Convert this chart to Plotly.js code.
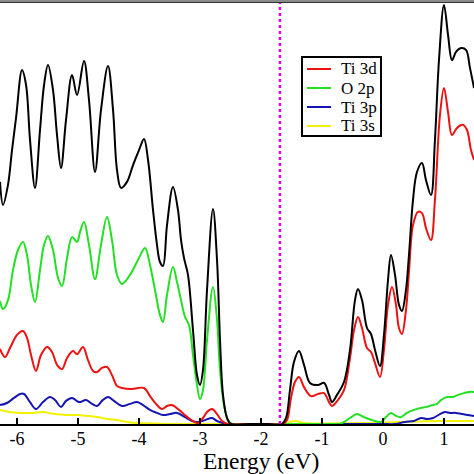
<!DOCTYPE html>
<html>
<head>
<meta charset="utf-8">
<script src="https://cdn.plot.ly/plotly-3.0.1.min.js"></script>
<style>
  html, body { margin: 0; padding: 0; background: #ffffff; }
  #chart { width: 474px; height: 474px; }
</style>
</head>
<body>
<div id="chart"></div>
<script>
// Projected density of states of TiO2 (energies in eV, DOS in states/eV)

// Total DOS
var totalE = [-6.279,-6.230,-6.148,-6.082,-6.016,-5.918,-5.852,-5.787,-5.705,-5.623,-5.557,-5.492,-5.410,-5.344,-5.279,-5.197,-5.098,-5.016,-4.902,-4.820,-4.721,-4.623,-4.508,-4.426,-4.361,-4.295,-4.197,-4.098,-4.0,-3.918,-3.852,-3.770,-3.705,-3.656,-3.607,-3.541,-3.443,-3.361,-3.311,-3.262,-3.197,-3.115,-3.049,-3.0,-2.951,-2.885,-2.787,-2.721,-2.672,-2.623,-2.557,-2.492,-2.2,-1.9,-1.656,-1.590,-1.525,-1.459,-1.377,-1.295,-1.197,-1.066,-0.967,-0.885,-0.836,-0.754,-0.639,-0.541,-0.459,-0.410,-0.344,-0.262,-0.197,-0.131,-0.049,0.016,0.082,0.131,0.197,0.262,0.311,0.377,0.426,0.492,0.557,0.639,0.705,0.787,0.852,0.918,1.0,1.066,1.131,1.197,1.279,1.361,1.426,1.492];
var totalDOS = [8.07,7.30,7.97,9.13,10.2,11.8,11.3,9.47,7.87,9.80,11.3,11.97,11.13,9.63,8.53,10.13,11.63,10.97,12.1,10.8,8.4,10.47,11.93,10.47,8.47,7.87,8.07,8.63,9.13,9.5,8.8,7.13,5.97,5.4,5.27,6.63,7.9,7.13,6.13,5.53,4.97,3.13,1.63,1.3,1.8,4.47,7.17,5.47,2.8,0.97,0.2,0,0,0,0,0.2,1.13,2.07,2.43,1.97,1.37,1.3,1.37,0.97,0.73,0.97,1.4,2.47,4.13,4.5,4.13,3.2,3.0,2.47,1.93,2.97,4.8,5.63,4.97,3.97,3.77,4.47,5.63,7.47,8.4,8.7,8.13,7.63,9.47,12.13,13.97,12.97,12.13,12.4,12.53,12.47,11.87,11.2];

// Ti 3d
var ti3dE = [-6.279,-6.197,-6.115,-6.0,-5.902,-5.836,-5.770,-5.689,-5.607,-5.508,-5.426,-5.344,-5.262,-5.180,-5.082,-5.016,-4.918,-4.836,-4.754,-4.689,-4.607,-4.525,-4.443,-4.361,-4.279,-4.115,-3.918,-3.820,-3.721,-3.623,-3.541,-3.459,-3.344,-3.230,-3.115,-3.033,-2.951,-2.885,-2.803,-2.721,-2.639,-2.541,-2.2,-1.9,-1.639,-1.574,-1.508,-1.443,-1.377,-1.295,-1.180,-1.066,-0.967,-0.885,-0.836,-0.738,-0.639,-0.541,-0.475,-0.410,-0.344,-0.262,-0.197,-0.131,-0.049,0.016,0.082,0.148,0.213,0.262,0.311,0.377,0.426,0.492,0.574,0.639,0.705,0.787,0.852,0.934,1.0,1.066,1.131,1.213,1.311,1.377,1.443,1.492];
var ti3dDOS = [2.5,2.23,2.53,2.97,3.1,2.87,2.3,1.77,2.3,2.57,2.4,1.97,1.83,2.2,2.43,2.33,2.57,2.13,1.77,1.73,1.87,1.9,1.63,1.27,1.2,1.17,1.2,0.93,0.67,0.5,0.6,0.63,0.47,0.27,0.1,0.03,0.2,0.4,0.5,0.33,0.1,0,0,0,0,0.13,0.87,1.4,1.57,1.23,0.93,1.0,1.03,0.73,0.6,0.8,1.13,2.2,3.13,3.57,3.2,2.53,2.4,2.03,1.57,2.47,3.97,4.57,3.97,3.2,3.0,3.8,5.07,6.63,7.07,7.03,6.53,6.13,7.47,10.3,11.2,10.4,9.63,9.87,9.97,9.8,9.13,8.8];

// O 2p
var o2pE = [-6.279,-6.230,-6.148,-6.066,-5.984,-5.902,-5.836,-5.770,-5.705,-5.623,-5.557,-5.492,-5.410,-5.328,-5.262,-5.180,-5.098,-5.016,-4.967,-4.902,-4.820,-4.721,-4.623,-4.525,-4.443,-4.361,-4.279,-4.148,-4.016,-3.902,-3.820,-3.738,-3.656,-3.607,-3.541,-3.443,-3.377,-3.311,-3.246,-3.180,-3.115,-3.049,-3.0,-2.951,-2.885,-2.787,-2.721,-2.672,-2.607,-2.541,-2.475,-2.2,-1.6,-1.0,-0.8,-0.705,-0.639,-0.541,-0.426,-0.311,-0.180,-0.033,0.049,0.131,0.213,0.295,0.393,0.508,0.607,0.721,0.803,0.885,0.951,1.049,1.148,1.230,1.328,1.410,1.492];
var o2pDOS = [4.1,3.83,4.13,5.13,5.8,6.07,5.63,4.63,4.07,5.13,5.97,6.27,5.8,4.87,4.6,5.53,6.23,6.07,6.4,6.73,5.97,4.83,5.97,6.9,6.13,4.97,4.67,4.97,5.47,5.87,5.3,4.47,3.63,3.4,4.3,5.23,4.73,4.13,3.57,3.3,2.3,1.3,0.83,1.13,2.8,4.57,3.47,1.8,0.63,0.13,0,0,0,0,0,0,0.07,0.2,0.33,0.23,0.13,0.07,0.23,0.37,0.27,0.23,0.37,0.47,0.53,0.57,0.63,0.67,0.8,0.9,0.9,0.97,1.03,1.07,1.07];

// Ti 3p
var ti3pE = [-6.279,-6.164,-6.049,-5.951,-5.885,-5.787,-5.689,-5.574,-5.459,-5.377,-5.279,-5.197,-5.098,-4.984,-4.869,-4.770,-4.689,-4.607,-4.508,-4.410,-4.279,-4.148,-4.033,-3.934,-3.820,-3.705,-3.607,-3.492,-3.377,-3.246,-3.131,-3.033,-2.918,-2.803,-2.721,-2.623,-2.557,-2.0,-1.0,-0.5,0.0,0.197,0.361,0.508,0.623,0.721,0.820,0.934,1.016,1.098,1.197,1.295,1.393,1.492];
var ti3pDOS = [0.63,0.7,0.87,1.0,1.0,0.73,0.5,0.73,0.9,0.8,0.57,0.77,0.87,0.73,0.8,0.67,0.6,0.77,0.9,0.77,0.6,0.67,0.73,0.63,0.47,0.37,0.3,0.33,0.37,0.23,0.1,0.07,0.13,0.2,0.1,0.03,0,0,0,0,0,0,0.07,0.1,0.2,0.17,0.2,0.33,0.4,0.37,0.37,0.33,0.3,0.27];

// Ti 3s
var ti3sE = [-6.279,-6.115,-5.951,-5.754,-5.574,-5.377,-5.180,-5.0,-4.852,-4.689,-4.525,-4.361,-4.197,-3.984,-3.738,-3.410,-2.5,-1.607,-1.525,-1.426,-1.295,-1.033,-0.377,0.279,0.9,1.492];
var ti3sDOS = [0.47,0.4,0.37,0.37,0.4,0.33,0.3,0.3,0.27,0.23,0.17,0.13,0.07,0.03,0.02,0,0,0,0.07,0.1,0.03,0.02,0.03,0.07,0.1,0.1];

// Axis ticks and labels
var tickValues = [-6, -5, -4, -3, -2, -1, 0, 1];
var tickLabels = ['-6', '-5', '-4', '-3', '-2', '-1', '0', '1'];
var xAxisTitle = 'Energy (eV)';
var fermiLevel = -1.69;

// Series shown in the legend
var seriesNames  = ['Ti 3d', 'O 2p', 'Ti 3p', 'Ti 3s'];
var seriesColors = ['#ee1111', '#22e022', '#1414b4', '#f2f200'];

// Figure geometry
var W = 474, H = 474;
var M = { l: 0, r: 0, t: 3, b: 50 };
function paperX(px) { return (px - M.l) / (W - M.l - M.r); }
function paperY(py) { return (H - M.b - py) / (H - M.t - M.b); }

var serif = 'Liberation Serif, Times New Roman, serif';

function curve(x, y, name, color) {
  return {
    type: 'scatter', mode: 'lines', x: x, y: y, name: name,
    line: { color: color, width: 2, shape: 'spline', smoothing: 1.0 },
    showlegend: false, hoverinfo: 'skip'
  };
}

var traces = [
  curve(ti3sE, ti3sDOS, seriesNames[3], seriesColors[3]),
  curve(ti3pE, ti3pDOS, seriesNames[2], seriesColors[2]),
  curve(o2pE, o2pDOS, seriesNames[1], seriesColors[1]),
  curve(ti3dE, ti3dDOS, seriesNames[0], seriesColors[0]),
  curve(totalE, totalDOS, 'Total', '#000000')
];

// Frame edge along the top and the Fermi level marker
var shapes = [
  { type: 'rect', xref: 'paper', yref: 'paper', x0: 0, x1: 1, y0: paperY(2), y1: paperY(0),
    fillcolor: '#8a8a8a', line: { width: 0 } },
  { type: 'line', xref: 'paper', yref: 'paper', x0: 0, x1: 1, y0: paperY(2.5), y1: paperY(2.5),
    line: { color: '#333333', width: 1 } },
  { type: 'line', xref: 'x', yref: 'paper', x0: fermiLevel, x1: fermiLevel, y0: 0, y1: 1,
    line: { color: '#dd00dd', width: 2.5, dash: 'dot' } }
];

// Legend box with line samples
var annotations = [];
var box = { x0: 302, x1: 381, y0: 57, y1: 136 };
shapes.push({ type: 'rect', xref: 'paper', yref: 'paper',
  x0: paperX(box.x0), x1: paperX(box.x1), y0: paperY(box.y1), y1: paperY(box.y0),
  fillcolor: '#ffffff', line: { color: '#000000', width: 2 } });
var rowY = [69, 88, 107, 126];
seriesNames.forEach(function (name, i) {
  shapes.push({ type: 'line', xref: 'paper', yref: 'paper',
    x0: paperX(307), x1: paperX(331), y0: paperY(rowY[i]), y1: paperY(rowY[i]),
    line: { color: seriesColors[i], width: 2 } });
  annotations.push({ xref: 'paper', yref: 'paper', x: paperX(339), y: paperY(rowY[i]),
    xanchor: 'left', yanchor: 'middle', showarrow: false, text: name,
    font: { family: serif, size: 17, color: '#000000' } });
});

// Axis title
annotations.push({ xref: 'paper', yref: 'paper', x: paperX(261), y: paperY(460.5),
  xanchor: 'center', yanchor: 'middle', showarrow: false, text: xAxisTitle,
  font: { family: serif, size: 23.5, color: '#000000' } });

var layout = {
  width: W, height: H,
  margin: M,
  paper_bgcolor: '#ffffff', plot_bgcolor: '#ffffff',
  showlegend: false,
  xaxis: {
    range: [-6.279, 1.492], fixedrange: true,
    showgrid: false, zeroline: false,
    showline: true, linecolor: '#000000', linewidth: 2,
    ticks: 'inside', ticklen: 6, tickwidth: 2, tickcolor: '#000000',
    ticklabelstandoff: -3,
    tickmode: 'array', tickvals: tickValues, ticktext: tickLabels,
    tickfont: { family: serif, size: 18, color: '#000000' }
  },
  yaxis: { range: [0, 14.033], visible: false, fixedrange: true },
  shapes: shapes,
  annotations: annotations
};

Plotly.newPlot('chart', traces, layout, { staticPlot: true, displayModeBar: false });
</script>
</body>
</html>
